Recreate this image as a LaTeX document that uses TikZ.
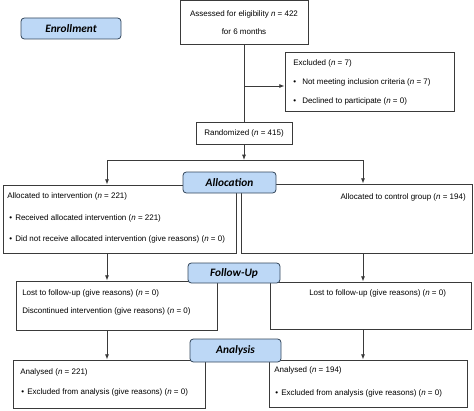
\documentclass[tikz,border=0pt]{standalone}
\usepackage{fontspec}
\setmainfont{Liberation Sans}
\newfontfamily\labfont{Carlito}
\usetikzlibrary{arrows.meta,positioning,fit}
\definecolor{boxLine}{HTML}{3A3A3A}
\definecolor{labFill}{HTML}{BDD8F6}
\definecolor{labLine}{HTML}{34475C}
\newcommand{\itm}[1][4.5pt]{\makebox[#1][l]{\textbullet}}

\begin{document}
\begin{tikzpicture}[x=0.75pt, y=-0.75pt, >={Latex[length=4pt,width=3pt]},
  box/.style={draw=boxLine, line width=0.6pt, inner sep=0pt, fit={#1}},
  lab/.style={draw=labLine, fill=labFill, rounded corners=2.5pt, line width=0.6pt, inner sep=0pt, fit={#1}},
  labtxt/.style={inner sep=0pt, font=\labfont\bfseries\itshape\fontsize{8.5}{10}\selectfont},
  txt/.style={anchor=west, inner sep=0pt, font=\fontsize{6}{7.2}\selectfont},
  link/.style={draw=boxLine, line width=0.6pt}]
\useasboundingbox (0,0) rectangle (474,410);

% boxes
\node[box={(180,0.5) (308,44)}] (assess) {};
\node[box={(285,52) (454,111)}] (excl) {};
\node[box={(196,122) (292,144)}] (rand) {};
\node[box={(3,185) (236,253)}] (allocL) {};
\node[box={(241,184) (472,253)}] (allocR) {};
\node[box={(16,281) (217,330)}] (followL) {};
\node[box={(270,282) (471,329)}] (followR) {};
\node[box={(13,360) (205,408.5)}] (analL) {};
\node[box={(269,360) (467,407)}] (analR) {};

% texts
\node[txt, anchor=center] (assessA) at (244,14) {Assessed for eligibility \textit{n} = 422};
\node[txt, anchor=center] (assessB) at (244,32) {for 6 months};
\node[txt, anchor=center] (randTxt) at (rand) {Randomized (\textit{n} = 415)};
\node[txt] (exclHead) at (293,63) {Excluded (\textit{n} = 7)};
\node[txt] (exclA) at (293,82) {\itm[6.75pt]Not meeting inclusion criteria (\textit{n} = 7)};
\node[txt] (exclB) at (293,101) {\itm[6.75pt]Declined to participate (\textit{n} = 0)};
\node[txt] (allocHead) at (7,196) {Allocated to intervention (\textit{n} = 221)};
\node[txt] (allocA) at (9,218) {\itm Received allocated intervention (\textit{n} = 221)};
\node[txt] (allocB) at (9,239) {\itm Did not receive allocated intervention (give reasons) (\textit{n} = 0)};
\node[txt, anchor=east] (ctrlHead) at (466,197) {Allocated to control group (\textit{n} = 194)};
\node[txt] (lostL) at (22,293) {Lost to follow-up (give reasons) (\textit{n} = 0)};
\node[txt] (discL) at (22,311) {Discontinued intervention (give reasons) (\textit{n} = 0)};
\node[txt] (lostR) at (309,293) {Lost to follow-up (give reasons) (\textit{n} = 0)};
\node[txt] (analHeadL) at (20,372) {Analysed (\textit{n} = 221)};
\node[txt] (analExL) at (21,392) {\itm Excluded from analysis (give reasons) (\textit{n} = 0)};
\node[txt] (analHeadR) at (274,370) {Analysed (\textit{n} = 194)};
\node[txt] (analExR) at (275,393) {\itm Excluded from analysis (give reasons) (\textit{n} = 0)};

% connectors
\coordinate (forkL) at (107,160);
\coordinate (forkR) at (363,160);
\coordinate (fork) at (244,160);
\coordinate (split) at (244,86);
\draw[link] (assess.south) -- (rand.north);
\draw[link,->] (split) -- (split -| excl.west);
\draw[link,->] (rand.south) -- (fork);
\draw[link] (forkL) -- (forkR);
\foreach \f/\a/\b in {forkL/forkL/allocL, forkR/forkR/allocR, forkL/allocL/followL, forkR/allocR/followR, forkL/followL/analL, forkR/followR/analR}
  \draw[link,->] (\a.south -| \f) -- (\b.north -| \f);

% stage labels
\foreach \n/\a/\b/\t in {enrol/{21,18}/{121,39}/Enrollment, alloc/{183,172}/{276,193}/Allocation, follow/{188,263}/{280,283}/Follow-Up, analysis/{190,339}/{281,362}/Analysis} {
  \node[lab={(\a) (\b)}] (\n) {};
  \node[labtxt] (\n Txt) at (\n) {\t};
}
\end{tikzpicture}
\end{document}
